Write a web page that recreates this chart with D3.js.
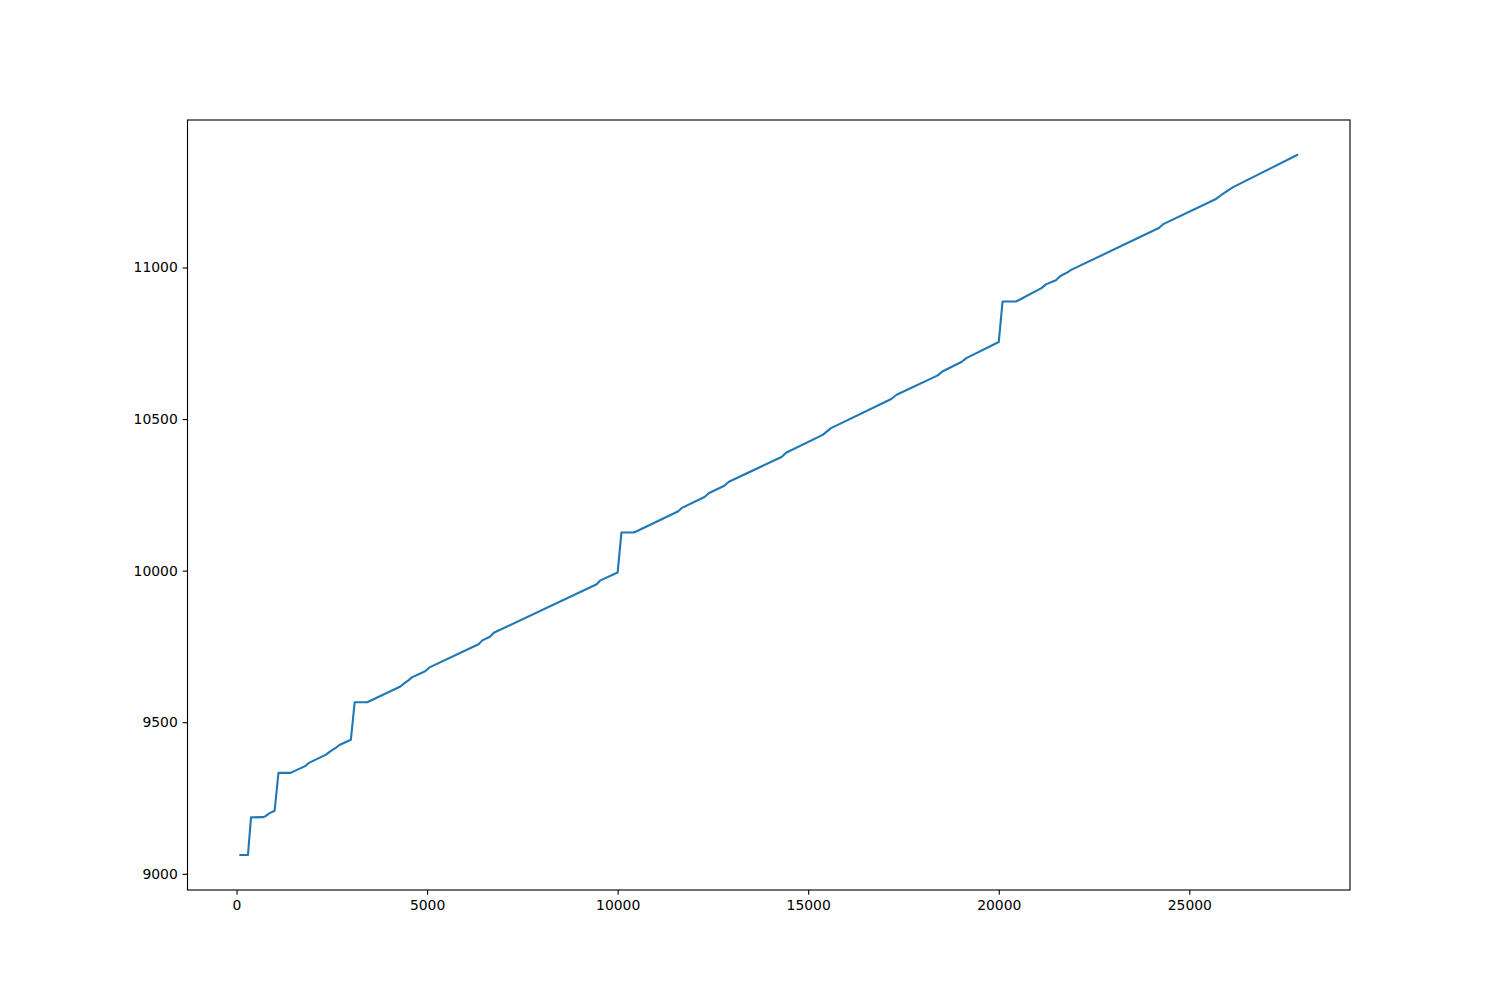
<!DOCTYPE html>
<html>
<head>
<meta charset="utf-8">
<script src="https://cdn.jsdelivr.net/npm/d3@7"></script>
<style>
  html, body { margin: 0; padding: 0; background: #fff; }
  svg { display: block; }
  .tick text { font-family: "DejaVu Sans", sans-serif; font-size: 13.9px; fill: #000; }
</style>
</head>
<body>
<svg id="chart" width="1500" height="1000"></svg>
<script>
const xValues = [100, 300, 380, 700, 760, 870, 1000, 1100, 1420, 1500, 1800, 1900, 2350, 2450, 2600, 2700, 3000, 3100, 3430, 3500, 4300, 4400, 4500, 4600, 4950, 5050, 6350, 6450, 6650, 6750, 9450, 9550, 10000, 10100, 10420, 10500, 11580, 11700, 12280, 12400, 12800, 12920, 14300, 14420, 15380, 15600, 17180, 17320, 18400, 18520, 19020, 19150, 20000, 20100, 20450, 20520, 21120, 21250, 21500, 21620, 21800, 21900, 24200, 24330, 25700, 25850, 26150, 27830];
const yValues = [9062, 9062, 9186, 9187, 9190, 9200, 9208, 9333, 9333, 9338, 9355, 9366, 9393, 9403, 9415, 9425, 9442, 9566, 9566, 9570, 9618, 9628, 9637, 9648, 9668, 9680, 9757, 9770, 9782, 9795, 9955, 9968, 9994, 10126, 10126, 10130, 10195, 10208, 10243, 10256, 10280, 10293, 10375, 10389, 10448, 10470, 10566, 10580, 10644, 10657, 10688, 10701, 10754, 10888, 10888, 10892, 10932, 10945, 10958, 10972, 10984, 10992, 11130, 11144, 11226, 11240, 11265, 11371];
const xTicks = [0, 5000, 10000, 15000, 20000, 25000];
const yTicks = [9000, 9500, 10000, 10500, 11000];

(function () {
  const svg = d3.select("#chart");
  const mLeft = 187.5, mRight = 1350, mTop = 120, mBottom = 890;
  const pt = 100 / 72;

  function padded(ext) {
    const s = ext[1] - ext[0];
    return [ext[0] - 0.05 * s, ext[1] + 0.05 * s];
  }

  const x = d3.scaleLinear().domain(padded(d3.extent(xValues))).range([mLeft, mRight]);
  const y = d3.scaleLinear().domain(padded(d3.extent(yValues))).range([mBottom, mTop]);

  const data = xValues.map((v, i) => [v, yValues[i]]);

  svg.append("path")
    .datum(data)
    .attr("fill", "none")
    .attr("stroke", "#1f77b4")
    .attr("stroke-width", 1.5 * pt)
    .attr("stroke-linejoin", "round")
    .attr("stroke-linecap", "square")
    .attr("d", d3.line().x(d => x(d[0])).y(d => y(d[1])));

  const xAxis = svg.append("g")
    .attr("transform", `translate(0,${mBottom})`)
    .call(d3.axisBottom(x).tickValues(xTicks).tickFormat(d3.format("d"))
      .tickSize(3.5 * pt).tickPadding(3.5 * pt).tickSizeOuter(0));
  const yAxis = svg.append("g")
    .attr("transform", `translate(${mLeft},0)`)
    .call(d3.axisLeft(y).tickValues(yTicks).tickFormat(d3.format("d"))
      .tickSize(3.5 * pt).tickPadding(3.5 * pt).tickSizeOuter(0));

  [xAxis, yAxis].forEach(g => {
    g.select(".domain").remove();
    g.selectAll(".tick line").attr("stroke", "#000").attr("stroke-width", 0.8 * pt);
  });

  svg.append("rect")
    .attr("x", mLeft).attr("y", mTop)
    .attr("width", mRight - mLeft).attr("height", mBottom - mTop)
    .attr("fill", "none").attr("stroke", "#000").attr("stroke-width", 0.8 * pt);
})();
</script>
</body>
</html>
